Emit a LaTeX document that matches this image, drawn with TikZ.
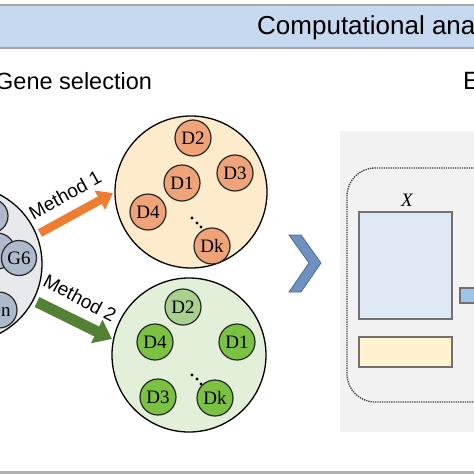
\documentclass[tikz,border=0pt]{standalone}
\usepackage{fontspec}
\setmainfont{Liberation Serif}
\newfontfamily\arialfont{Liberation Sans}
\usetikzlibrary{arrows.meta}
\definecolor{hdrblue}{HTML}{C6D9F1}
\definecolor{hdrline}{HTML}{A6A6A6}
\definecolor{gbig}{HTML}{E7E9ED}
\definecolor{gsmall}{HTML}{AEB9CB}
\definecolor{peach}{HTML}{FDEBCB}
\definecolor{osmall}{HTML}{EFA379}
\definecolor{lgreen}{HTML}{E2F0D9}
\definecolor{gsm}{HTML}{7CC242}
\definecolor{gsmlight}{HTML}{A9D18E}
\definecolor{oarrow}{HTML}{ED7D31}
\definecolor{garrow}{HTML}{548235}
\definecolor{chevfill}{HTML}{6E91C1}
\definecolor{chevline}{HTML}{4A6B95}
\definecolor{panel}{HTML}{F2F2F2}
\definecolor{sqblue}{HTML}{DEE8F5}
\definecolor{sqline}{HTML}{707070}
\definecolor{ylw}{HTML}{FFF2CC}
\definecolor{smblue}{HTML}{9DC3E6}
\begin{document}
\begin{tikzpicture}[x=1pt,y=-1pt,
  bigc/.style={circle, draw=black, line width=1.3pt, inner sep=0pt},
  smallc/.style={circle, draw=black!85, line width=1.2pt, minimum size=36pt, inner sep=0pt, font=\fontsize{19}{19}\selectfont},
  dotc/.style={circle, fill=black, inner sep=0pt, minimum size=3.2pt},
  labtxt/.style={font=\arialfont\fontsize{19}{19}\selectfont, inner sep=0pt},
  boxline/.style={draw=sqline, line width=1.6pt}]
\clip (0,0) rectangle (474,474);
\useasboundingbox (0,0) rectangle (474,474);
% header
\fill[hdrblue] (0,5) rectangle (474,48);
\draw[hdrline, line width=1.5pt] (0,5) -- (474,5);
\draw[hdrline, line width=1.2pt] (0,48) -- (474,48);
\node[font=\arialfont\fontsize{26}{26}\selectfont, inner sep=0pt, anchor=base west] (title) at (257,34) {Computational analysis};
\node[font=\arialfont\fontsize{23.5}{23.5}\selectfont, inner sep=0pt, anchor=base west] (genesel) at (-5,89) {Gene selection};
\node[font=\arialfont\fontsize{25}{25}\selectfont, inner sep=0pt, anchor=base west] (esec) at (463,89) {E};
% bottom bar
\fill[black!30] (0,471) rectangle (474,474);
% left gene pool
\node[bigc, fill=gbig, minimum size=156pt] (gpool) at (-36,264) {};
\node[smallc, fill=gsmall, minimum size=34pt] (gtop) at (-9,216) {};
\node[smallc, fill=gsmall] (gmid) at (-3,251) {};
\node[smallc, fill=gsmall, minimum size=35pt] (g6) at (19,258) {G6};
\node[smallc, fill=gsmall] (gn) at (-1,310) {Gn};
% method 1 pool
\node[bigc, fill=peach, minimum size=152pt] (pool1) at (191,192) {};
\node[smallc, fill=osmall] (o2) at (193,138) {D2};
\node[smallc, fill=osmall] (o1) at (182,183) {D1};
\node[smallc, fill=osmall] (o3) at (235,173) {D3};
\node[smallc, fill=osmall] (o4) at (148,212) {D4};
\node[smallc, fill=osmall] (ok) at (212,246) {Dk};
\node[dotc] (od1) at (192,218) {};
\node[dotc] (od2) at (197,223) {};
\node[dotc] (od3) at (201,227) {};
% method 2 pool
\node[bigc, fill=lgreen, minimum size=154pt] (pool2) at (189,355) {};
\node[smallc, fill=gsmlight] (e2) at (183,307) {D2};
\node[smallc, fill=gsm] (e4) at (155,342) {D4};
\node[smallc, fill=gsm] (e1) at (237,342) {D1};
\node[smallc, fill=gsm] (e3) at (158,397) {D3};
\node[smallc, fill=gsm] (ek) at (215,398) {Dk};
\node[dotc] (ed1) at (192,375) {};
\node[dotc] (ed2) at (197,379) {};
\node[dotc] (ed3) at (201,384) {};
% arrows
\coordinate (m1s) at (40,233);
\coordinate (m1e) at (113,193);
\draw[oarrow, line width=8.5pt, -{Triangle[length=15pt,width=21pt]}] (m1s) -- (m1e);
\node[labtxt, rotate=29] (m1lab) at (65,195) {Method 1};
\coordinate (m2s) at (37,302);
\coordinate (m2e) at (112,339);
\draw[garrow, line width=11pt, -{Triangle[length=17pt,width=25pt]}] (m2s) -- (m2e);
\node[labtxt, rotate=-28] (m2lab) at (80,298) {Method 2};
% chevron
\draw[chevline, fill=chevfill, line width=0.8pt, line join=miter]
  (289,235) -- (301,235) -- (321,263) -- (301,292) -- (289,292) -- (309,263) -- cycle;
% right panel
\fill[panel] (340,131) rectangle (480,432);
\draw[black!75, line width=1.3pt, densely dotted, rounded corners=28pt]
  (500,168) -- (347,168) -- (347,402) -- (500,402);
\node[font=\itshape\fontsize{19}{19}\selectfont, inner sep=0pt] (xlab) at (407,200) {X};
\node[boxline, fill=sqblue, minimum width=93pt, minimum height=107pt, inner sep=0pt] (xbox) at (405.5,265.5) {};
\node[boxline, fill=ylw, minimum width=93pt, minimum height=30pt, inner sep=0pt] (ybox) at (405.5,352) {};
\node[boxline, fill=smblue, minimum width=30pt, minimum height=15pt, inner sep=0pt, anchor=west] (sbox) at (459,295.5) {};
\end{tikzpicture}
\end{document}
